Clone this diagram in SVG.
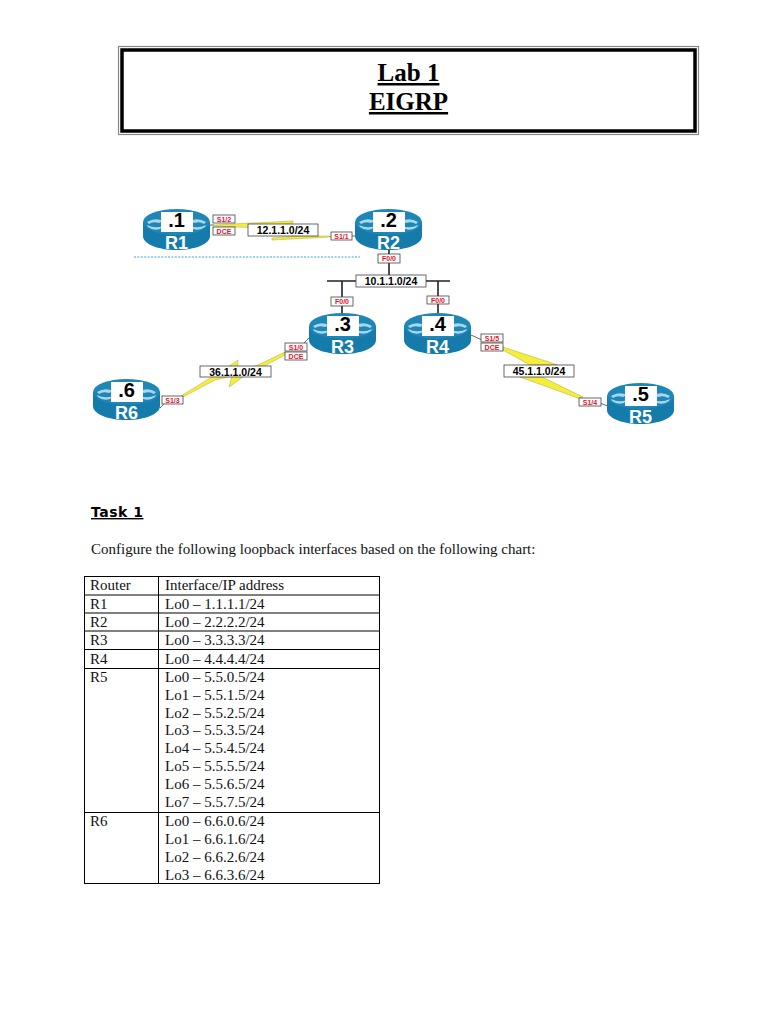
<svg xmlns="http://www.w3.org/2000/svg" width="768" height="1024" viewBox="0 0 768 1024">
<style>
.t{font-family:"Liberation Serif","Times New Roman",serif;font-size:15px;fill:#111}
.h{font-family:"Liberation Serif",serif;font-size:25px;font-weight:bold;fill:#000;text-anchor:middle;text-decoration:underline}
.ip{font-family:"Liberation Sans",Arial,sans-serif;font-size:10.500px;font-weight:bold;fill:#000;text-anchor:middle}
.ib{fill:#fff;stroke:#444;stroke-width:.8}
.if{font-family:"Liberation Sans",Arial,sans-serif;font-size:7px;font-weight:bold;fill:#e8112d;text-anchor:middle}
.d{font-family:"Liberation Sans",Arial,sans-serif;font-size:20px;font-weight:bold;fill:#000;text-anchor:middle}
.n{font-family:"Liberation Sans",Arial,sans-serif;font-size:18px;font-weight:bold;fill:#fff;text-anchor:middle}
.bolt{fill:#f5ee3a;stroke:#a9a63a;stroke-width:.5}
.wire{stroke:#222;stroke-width:1.6;fill:none}
.thin{stroke:#666;stroke-width:1;fill:none}
.rule{stroke:#000;stroke-width:1;fill:none}
</style>
<defs>
<g id="router">
<path d="M0 13V27C0 35 15 41 33.500 41S67 35 67 27V13Z" fill="#157bab"/>
<ellipse cx="33.500" cy="13" rx="33.500" ry="13" fill="#1f86b8"/>
<path d="M4 13Q12 8 20 12L16 14Q10 12 6 15ZM63 13Q55 8 47 12L51 14Q57 12 61 15ZM4 16Q12 20 20 17L17 20Q10 22 5 18ZM63 16Q55 20 47 17L50 20Q57 22 62 18Z" fill="#a9d8ee"/>
<rect x="18" y="3" width="32" height="20" fill="#fff"/>
</g>
</defs>

<g id="title">
<rect x="118.500" y="46.500" width="580" height="88" fill="#fff" stroke="#888" stroke-width="1.200"/>
<rect x="122" y="50" width="573" height="81" fill="#fff" stroke="#000" stroke-width="3.500"/>
<text class="h" x="408.500" y="81">Lab 1</text>
<text class="h" x="408.500" y="110">EIGRP</text>
</g>

<g id="connectors">
<line x1="134" y1="257" x2="360" y2="257" stroke="#7cc4e8" stroke-width="1.300" stroke-dasharray="2 1.400"/>
<line class="thin" x1="209" y1="225" x2="214" y2="225"/>
<line class="thin" x1="352" y1="236" x2="356" y2="236"/>
<polygon class="bolt" points="213,225 293,221 293,223 270,226 260,228 213,226"/>
<polygon class="bolt" points="331,236 331,237 272,240 272,238 300,236"/>
<line class="wire" x1="389" y1="248" x2="389" y2="275"/>
<line class="wire" x1="327" y1="281" x2="450" y2="281"/>
<line class="wire" x1="342" y1="281" x2="342" y2="316"/>
<line class="wire" x1="438" y1="281" x2="438" y2="316"/>
<line class="thin" x1="160" y1="408" x2="164" y2="404"/>
<line class="thin" x1="304" y1="343" x2="309" y2="338"/>
<line class="thin" x1="471" y1="335" x2="482" y2="340"/>
<line class="thin" x1="600" y1="403" x2="610" y2="407"/>
<polygon class="bolt" points="181,396 228,367 238,360 237,372 258,365 285,352 285,355 243,377 229,387 232,376 215,380 181,398"/>
<polygon class="bolt" points="503,347 558,365 530,365 503,350"/>
<polygon class="bolt" points="520,377 542,377 583,397 578,398"/>
</g>

<g id="r1"><use href="#router" x="143" y="209"/><text class="d" x="176.500" y="227">.1</text><text class="n" x="176.500" y="248.500">R1</text></g>
<g id="r2"><use href="#router" x="355" y="209"/><text class="d" x="388.500" y="227">.2</text><text class="n" x="388.500" y="248.500">R2</text></g>
<g id="r3"><use href="#router" x="309" y="313"/><text class="d" x="342.500" y="331">.3</text><text class="n" x="342.500" y="352.500">R3</text></g>
<g id="r4"><use href="#router" x="404" y="313"/><text class="d" x="437.500" y="331">.4</text><text class="n" x="437.500" y="352.500">R4</text></g>
<g id="r5"><use href="#router" x="607" y="383"/><text class="d" x="640.500" y="401">.5</text><text class="n" x="640.500" y="422.500">R5</text></g>
<g id="r6"><use href="#router" x="93" y="379"/><text class="d" x="126.500" y="397">.6</text><text class="n" x="126.500" y="418.500">R6</text></g>

<g id="labels">
<rect class="ib" x="248" y="224" width="70" height="12"/><text class="ip" x="283" y="234">12.1.1.0/24</text>
<rect class="ib" x="356" y="275" width="70" height="12"/><text class="ip" x="391" y="285">10.1.1.0/24</text>
<rect class="ib" x="200" y="366" width="71" height="11"/><text class="ip" x="235.500" y="375.500">36.1.1.0/24</text>
<rect class="ib" x="504" y="365" width="70" height="12"/><text class="ip" x="539" y="375">45.1.1.0/24</text>

<rect class="ib" x="213" y="215" width="22" height="8"/><text class="if" x="224" y="221.500">S1/2</text>
<rect class="ib" x="213" y="227" width="22" height="8"/><text class="if" x="224" y="233.500">DCE</text>
<rect class="ib" x="331" y="232" width="21" height="8"/><text class="if" x="341.500" y="238.500">S1/1</text>
<rect class="ib" x="378" y="254" width="22" height="9"/><text class="if" x="389" y="261">F0/0</text>
<rect class="ib" x="331" y="297" width="22" height="9"/><text class="if" x="342" y="304">F0/0</text>
<rect class="ib" x="427" y="296" width="22" height="8"/><text class="if" x="438" y="302.500">F0/0</text>
<rect class="ib" x="285" y="343" width="22" height="8"/><text class="if" x="296" y="349.500">S1/0</text>
<rect class="ib" x="285" y="352" width="22" height="8"/><text class="if" x="296" y="358.500">DCE</text>
<rect class="ib" x="162" y="396" width="21" height="8"/><text class="if" x="172.500" y="402.500">S1/3</text>
<rect class="ib" x="481" y="334" width="22" height="8"/><text class="if" x="492" y="340.500">S1/5</text>
<rect class="ib" x="481" y="343" width="22" height="8"/><text class="if" x="492" y="349.500">DCE</text>
<rect class="ib" x="579" y="398" width="22" height="8"/><text class="if" x="590" y="404.500">S1/4</text>
</g>

<g id="task">
<text x="91" y="517" font-family="'DejaVu Sans',Verdana,sans-serif" font-size="14" font-weight="bold" fill="#000" text-decoration="underline" letter-spacing=".5">Task 1</text>
<text class="t" x="91" y="554">Configure the following loopback interfaces based on the following chart:</text>
</g>

<g id="table">
<rect class="rule" x="84.500" y="576.500" width="295" height="307"/>
<path class="rule" d="M158.500 576.500V883.500M84.500 595H379.500M84.500 613H379.500M84.500 631H379.500M84.500 649.500H379.500M84.500 668.500H379.500M84.500 812.500H379.500"/>
<text class="t" x="90" y="590">Router</text><text class="t" x="165" y="590">Interface/IP address</text>
<text class="t" x="90" y="609">R1</text><text class="t" x="165" y="609">Lo0 – 1.1.1.1/24</text>
<text class="t" x="90" y="627">R2</text><text class="t" x="165" y="627">Lo0 – 2.2.2.2/24</text>
<text class="t" x="90" y="645">R3</text><text class="t" x="165" y="645">Lo0 – 3.3.3.3/24</text>
<text class="t" x="90" y="664">R4</text><text class="t" x="165" y="664">Lo0 – 4.4.4.4/24</text>
<text class="t" x="90" y="682">R5</text><text class="t" x="165" y="682">Lo0 – 5.5.0.5/24</text>
<text class="t" x="165" y="700">Lo1 – 5.5.1.5/24</text>
<text class="t" x="165" y="718">Lo2 – 5.5.2.5/24</text>
<text class="t" x="165" y="735">Lo3 – 5.5.3.5/24</text>
<text class="t" x="165" y="753">Lo4 – 5.5.4.5/24</text>
<text class="t" x="165" y="771">Lo5 – 5.5.5.5/24</text>
<text class="t" x="165" y="789">Lo6 – 5.5.6.5/24</text>
<text class="t" x="165" y="807">Lo7 – 5.5.7.5/24</text>
<text class="t" x="90" y="826">R6</text><text class="t" x="165" y="826">Lo0 – 6.6.0.6/24</text>
<text class="t" x="165" y="844">Lo1 – 6.6.1.6/24</text>
<text class="t" x="165" y="862">Lo2 – 6.6.2.6/24</text>
<text class="t" x="165" y="880">Lo3 – 6.6.3.6/24</text>
</g>
</svg>
